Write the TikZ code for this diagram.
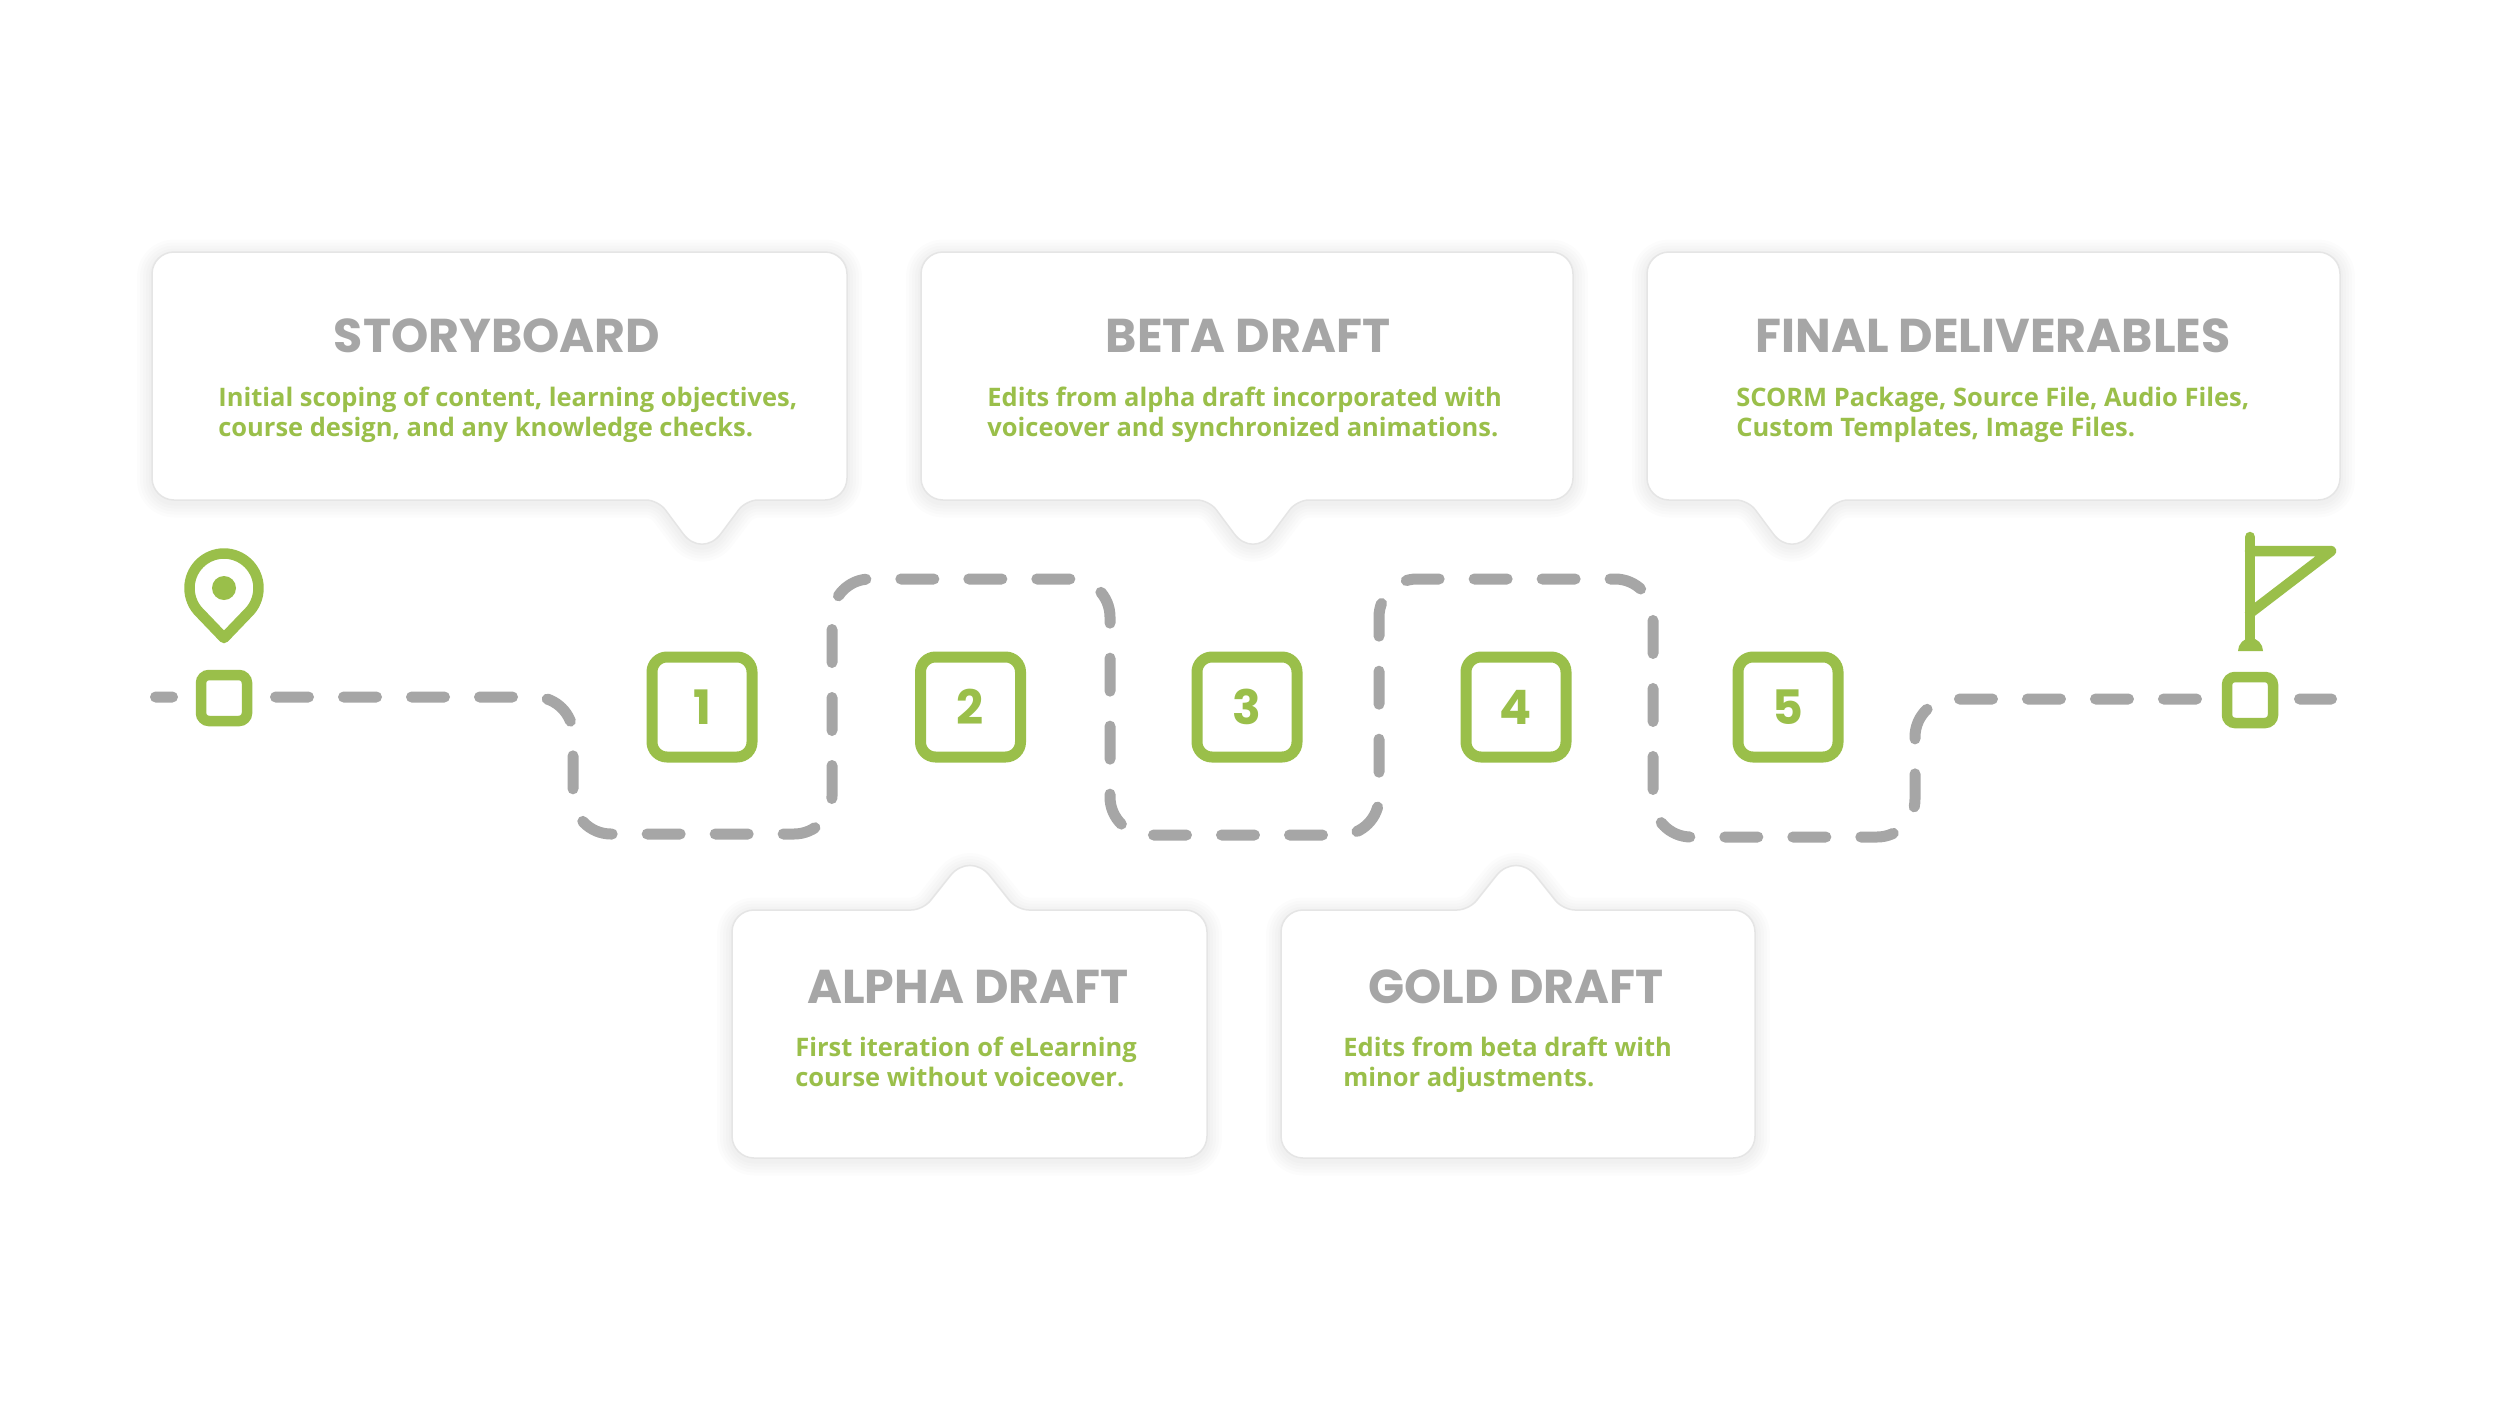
\documentclass[tikz,border=0pt]{standalone}
\usepackage{fontspec}
\setmainfont{Open Sans}
\newfontfamily\headfont{Poppins}
\usepackage{xcolor}
\usetikzlibrary{calc}
\definecolor{leaf}{HTML}{9ABF4A}
\definecolor{ash}{HTML}{A6A6A6}
\tikzset{
    numbox/.style={rectangle,draw=leaf,fill=white,line width=2.2mm,rounded corners=3mm,minimum size=20mm,inner sep=0pt,text=leaf,font=\headfont\bfseries\fontsize{27}{27}\selectfont},
    endbox/.style={rectangle,draw=leaf,fill=white,line width=2.1mm,rounded corners=1.6mm,minimum size=9.2mm,inner sep=0pt},
    route/.style={ash,line width=2.2mm,line cap=round,rounded corners=7.6mm,dash pattern=on 6.6mm off 7mm,dash phase=3.2mm},
    cardtitle/.style={anchor=center,text=ash,font=\headfont\bfseries\fontsize{27}{27}\selectfont,inner sep=0pt},
    cardtext/.style={anchor=base west,align=left,text=leaf,font=\bfseries\fontsize{14.5}{17.2}\selectfont,inner sep=0pt},
    icon/.style={leaf,line width=2.1mm,line join=round,line cap=round}
}
% card with its tail under or over the box: x1,y1,x2,y2,tail x
\newcommand{\tailbelow}[5]{(#1,{#2+100}) [rounded corners=4.4mm] -- (#1,#2) -- (#3,#2) -- (#3,#4) [rounded corners=2.4mm] -- ({#5+44},#4) [rounded corners=6.3mm] -- (#5,{#4+59}) [rounded corners=2.4mm] -- ({#5-44},#4) [rounded corners=4.4mm] -- (#1,#4) -- cycle}
\newcommand{\tailabove}[5]{(#1,{#2+100}) [rounded corners=4.4mm] -- (#1,#2) [rounded corners=2.4mm] -- ({#5-47},#2) [rounded corners=6.3mm] -- (#5,{#2-59}) [rounded corners=2.4mm] -- ({#5+47},#2) [rounded corners=4.4mm] -- (#3,#2) -- (#3,#4) -- (#1,#4) -- cycle}
\newcommand{\drawcard}[1]{
    \foreach \w in {30,24,18,12,6} {
        \draw[black,opacity=0.010,line width=\w*0.2mm,line join=round,yshift=-0.5mm] #1;
    }
    \draw[fill=white,draw=black!10,line width=0.3mm] #1;
}
\begin{document}
\begin{tikzpicture}[x=0.2mm,y=-0.2mm]
\useasboundingbox (0,0) rectangle (2500,1406);
\fill[white] (0,0) rectangle (2500,1406);

% cards
\drawcard{\tailbelow{152}{252}{847}{500}{702}}
\drawcard{\tailbelow{921}{252}{1573}{500}{1253}}
\drawcard{\tailbelow{1647}{252}{2340}{500}{1792}}
\drawcard{\tailabove{732}{910}{1207}{1158}{970}}
\drawcard{\tailabove{1281}{910}{1755}{1158}{1516}}

\node[cardtitle] (storytitle) at (497,336) {STORYBOARD};
\node[cardtitle] (betatitle) at (1248,336) {BETA DRAFT};
\node[cardtitle] (finaltitle) at (1993,336) {FINAL DELIVERABLES};
\node[cardtitle] (alphatitle) at (968,987) {ALPHA DRAFT};
\node[cardtitle] (goldtitle) at (1516,987) {GOLD DRAFT};

\node[cardtext] (storytext) at (218,436.5) {Initial scoping of content, learning objectives,\\course design, and any knowledge checks.};
\node[cardtext] (betatext) at (987,436.5) {Edits from alpha draft incorporated with\\voiceover and synchronized animations.};
\node[cardtext] (finaltext) at (1736,436.5) {SCORM Package, Source File, Audio Files,\\Custom Templates, Image Files.};
\node[cardtext] (alphatext) at (795,1086.5) {First iteration of eLearning\\course without voiceover.};
\node[cardtext] (goldtext) at (1343,1086.5) {Edits from beta draft with\\minor adjustments.};

% dashed route
\coordinate (routein) at (155.5,697);
\coordinate (routeout) at (2331.5,699);
\draw[route] (routein) -- (573,697) -- (573,834) -- (832,834) -- (832,579) -- (1110,579) -- (1110,835)
    -- (1379,835) -- (1379,579) -- (1653,579) -- (1653,837) -- (1915,837) -- (1915,699) -- (routeout);

% numbered boxes
\foreach \n/\cx in {1/702,2/970.5,3/1247,4/1516,5/1788} {
    \node[numbox] (num\n) at (\cx,707) {\raisebox{-0.3mm}{\n}};
}
\node[endbox] (startbox) at (224,698) {};
\node[endbox] (finishbox) at (2250,700) {};

% pin
\draw[icon] (224,638) -- (248,613) .. controls (254.8,606.5) and (258.5,597.4) .. (258.5,588)
    .. controls (258.5,569) and (243,553.5) .. (224,553.5)
    .. controls (205,553.5) and (189.5,569) .. (189.5,588)
    .. controls (189.5,597.4) and (193.2,606.5) .. (200,613) -- cycle;
\fill[leaf] (224,588) circle (12);

% flag
\draw[icon] (2250,537) -- (2250,645);
\draw[icon] (2250,551) -- (2331,551) -- (2250,613);
\fill[leaf] (2238,651) .. controls (2238,644) and (2244,638) .. (2250.5,638) .. controls (2257,638) and (2263,644) .. (2263,651) -- cycle;
\end{tikzpicture}
\end{document}
